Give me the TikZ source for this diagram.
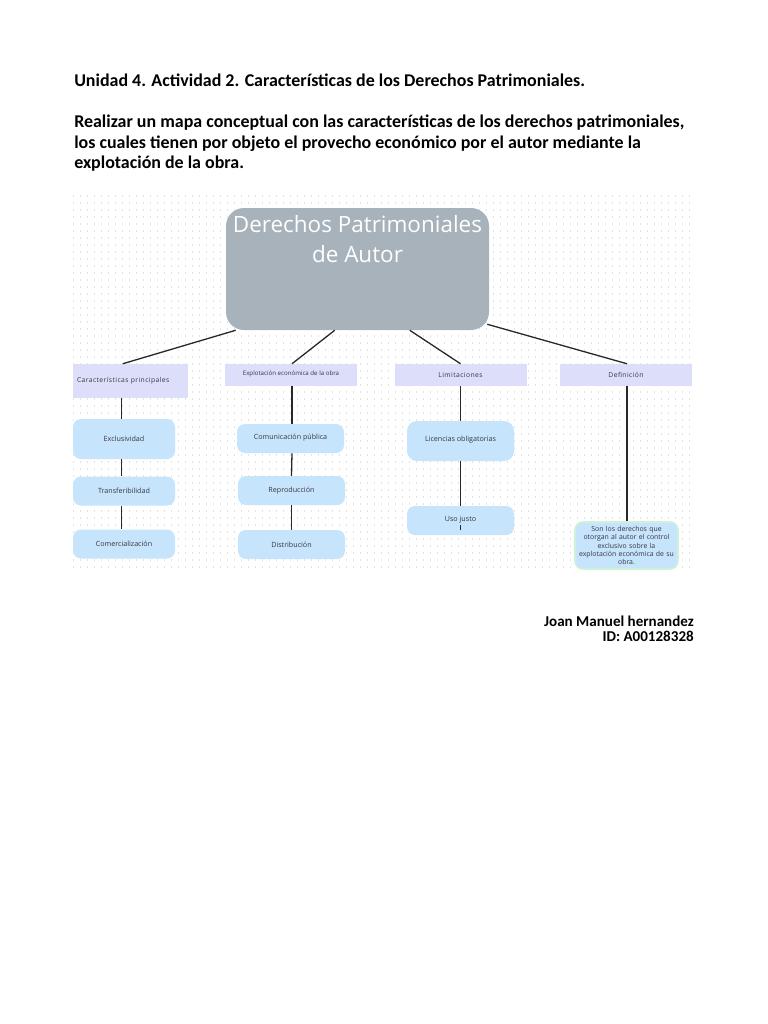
\documentclass[tikz,border=0pt]{standalone}
\usepackage{fontspec}
\setmainfont{Carlito}
\newfontfamily\dfont{Open Sans}
\newfontfamily\dfontw[LetterSpace=6]{Open Sans}
\usetikzlibrary{calc}
\definecolor{mainbox}{RGB}{168,178,186}
\definecolor{catfill}{RGB}{220,222,250}
\definecolor{subfill}{RGB}{198,228,251}
\definecolor{defborder}{RGB}{205,242,215}
\definecolor{dotc}{RGB}{226,226,226}
\definecolor{linec}{RGB}{40,40,40}
\definecolor{txtc}{RGB}{55,55,65}
\newcommand{\pxl}{0.797pt}
\begin{document}
\begin{tikzpicture}[x=0.797pt,y=-0.797pt,
  head/.style={anchor=base west, inner sep=0pt, font=\bfseries\fontsize{14.3}{17}\selectfont},
  auth/.style={anchor=base east, inner sep=0pt, font=\bfseries\fontsize{12}{14}\selectfont},
  cat/.style={fill=catfill, draw=none, inner sep=0pt, minimum width={132*\pxl}, minimum height={22*\pxl}, text=txtc, font=\dfontw\fontsize{5}{6}\selectfont},
  sub/.style={fill=subfill, draw=none, rounded corners={8*\pxl}, inner sep=0pt, minimum width={107*\pxl}, minimum height={29*\pxl}, text=txtc, font=\dfont\fontsize{5.7}{6.5}\selectfont},
  conn/.style={draw=linec, line width={1.3*\pxl}}]
\useasboundingbox (0,0) rectangle (768,1024);
\fill[white] (0,0) rectangle (768,1024);

% header text
\node[head] (h1) at (74,86) {Unidad 4. Actividad 2. Características de los Derechos Patrimoniales.};
\node[head] (p1) at (74,127) {Realizar un mapa conceptual con las características de los derechos patrimoniales,};
\node[head] (p2) at (74,148) {los cuales tienen por objeto el provecho económico por el autor mediante la};
\node[head] (p3) at (74,168.5) {explotación de la obra.};

% dotted background
\foreach \yy in {196,203,...,570}
  \draw[dotc, line width=0.9pt, dash pattern=on 0.9pt off 4.68pt] (73,\yy) -- (693,\yy);

% main box
\node[fill=mainbox, draw=none, rounded corners={18*\pxl}, minimum width={263*\pxl}, minimum height={122*\pxl}, inner sep=0pt] (m) at (357.5,269) {};
\node[text=white, align=center, inner sep=0pt, anchor=base, font=\dfont\fontsize{17.9}{23.5}\selectfont] (mt) at (357.5,262) {Derechos Patrimoniales\\de Autor};

% categories
\node[cat, minimum width={115*\pxl}, minimum height={34*\pxl}, text width={107*\pxl}, align=left, font=\dfontw\fontsize{5.4}{6}\selectfont] (c1) at (130.5,381) {Características principales};
\node[cat, font=\dfont\fontsize{4.9}{6}\selectfont] (c2) at (291,375) {\raisebox{3pt}{Explotación económica de la obra}};
\node[cat, font=\dfontw\fontsize{5.4}{6}\selectfont] (c3) at (460.5,375) {Limitaciones};
\node[cat, font=\dfontw\fontsize{5.4}{6}\selectfont] (c4) at (626,375) {Definición};

% sub boxes column 1
\node[sub, minimum width={102*\pxl}, minimum height={40*\pxl}] (s11) at (124,439) {Exclusividad};
\node[sub, minimum width={102*\pxl}] (s12) at (124,491) {Transferibilidad};
\node[sub, minimum width={102*\pxl}] (s13) at (124,544) {Comercialización};
% column 2
\node[sub] (s21) at (290.5,438.5) {\raisebox{2pt}{Comunicación pública}};
\node[sub] (s22) at (291.5,490.5) {Reproducción};
\node[sub] (s23) at (291.5,544.5) {Distribución};
% column 3
\node[sub, minimum height={40*\pxl}, rounded corners={10*\pxl}] (s31) at (460.5,441) {\raisebox{4pt}{Licencias obligatorias}};
\node[sub] (s32) at (460.5,520.5) {\raisebox{3pt}{Uso justo}};
% column 4
\node[sub, draw=defborder, line width={1.6*\pxl}, minimum width={103*\pxl}, minimum height={47*\pxl}, text width={100*\pxl}, align=center, font=\dfont\fontsize{5.5}{6.45}\selectfont] (s41) at (626.5,545.5) {Son los derechos que\\otorgan al autor el control\\exclusivo sobre la\\explotación económica de su\\obra.};

% connectors from main box
\draw[conn] ($(c1.north west)+(50,0)$) -- ($(m.south west)+(10,0)$);
\draw[conn] ($(c2.north)+(1,0)$) -- ($(m.south west)+(109,0)$);
\draw[conn] (c3.north) -- ($(m.south west)+(184,0)$);
\draw[conn] ($(c4.north)+(1,0)$) -- ($(m.south east)+(-2,-6)$);

% vertical connectors
\draw[conn] ($(c1.south west)+(49,0)$) -- ($(s11.north west)+(49,0)$);
\draw[conn] ($(s11.south west)+(49,0)$) -- ($(s12.north west)+(49,0)$);
\draw[conn] ($(s12.south west)+(49,0)$) -- ($(s13.north west)+(49,0)$);
\draw[conn] ($(c2.south)+(1,0)$) -- ($(s21.north)+(1.5,0)$);
\draw[conn] ($(s21.south)+(1.5,0)$) -- (s22.north);
\draw[conn] (s22.south) -- (s23.north);
\draw[conn] (c3.south) -- (s31.north);
\draw[conn] (s31.south) -- (s32.north);
\coordinate (tk) at ($(s32.south)+(0,-5)$);
\draw[conn] (tk) -- ++(0,-5);
\draw[conn] ($(c4.south)+(1,0)$) -- ($(s41.north)+(0.5,0)$);
\draw[draw=linec, line width={2.2*\pxl}] ($(c4.south)+(1,88)$) -- ($(c4.south)+(1,100)$);

% author
\node[auth] (a1) at (694,626) {Joan Manuel hernandez};
\node[auth] (a2) at (694,641.5) {ID: A00128328};
\end{tikzpicture}
\end{document}
